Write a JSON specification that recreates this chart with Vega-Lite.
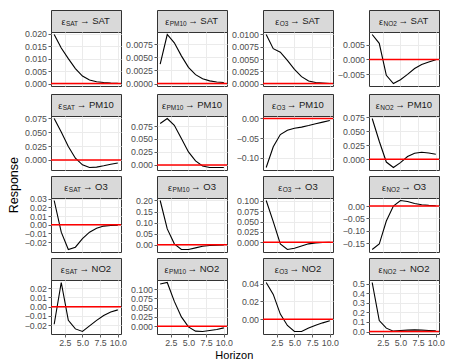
{
"$schema": "https://vega.github.io/schema/vega-lite/v6.json",
"background": "white",
"padding": {"left": 8, "top": 9, "right": 5, "bottom": 0},
"title": {"text": "Response", "orient": "left", "anchor": "middle", "fontSize": 12.5, "fontWeight": "normal", "font": "Liberation Sans", "color": "#000000", "offset": 3},
"datasets": {
"irf": [
{"p":"SAT_SAT","h":1,"v":0.0197},{"p":"SAT_SAT","h":2,"v":0.0143},{"p":"SAT_SAT","h":3,"v":0.0100},{"p":"SAT_SAT","h":4,"v":0.0060},{"p":"SAT_SAT","h":5,"v":0.0030},{"p":"SAT_SAT","h":6,"v":0.0014},{"p":"SAT_SAT","h":7,"v":0.0007},{"p":"SAT_SAT","h":8,"v":0.0004},{"p":"SAT_SAT","h":9,"v":0.0002},{"p":"SAT_SAT","h":10,"v":0.0001},
{"p":"PM10_SAT","h":1,"v":0.0037},{"p":"PM10_SAT","h":2,"v":0.0094},{"p":"PM10_SAT","h":3,"v":0.0078},{"p":"PM10_SAT","h":4,"v":0.0053},{"p":"PM10_SAT","h":5,"v":0.0031},{"p":"PM10_SAT","h":6,"v":0.0017},{"p":"PM10_SAT","h":7,"v":0.0009},{"p":"PM10_SAT","h":8,"v":0.0005},{"p":"PM10_SAT","h":9,"v":0.0003},{"p":"PM10_SAT","h":10,"v":0.0002},
{"p":"O3_SAT","h":1,"v":0.0100},{"p":"O3_SAT","h":2,"v":0.0071},{"p":"O3_SAT","h":3,"v":0.0064},{"p":"O3_SAT","h":4,"v":0.0047},{"p":"O3_SAT","h":5,"v":0.0029},{"p":"O3_SAT","h":6,"v":0.0014},{"p":"O3_SAT","h":7,"v":0.0005},{"p":"O3_SAT","h":8,"v":0.0002},{"p":"O3_SAT","h":9,"v":0.0001},{"p":"O3_SAT","h":10,"v":0.0000},
{"p":"NO2_SAT","h":1,"v":0.0085},{"p":"NO2_SAT","h":2,"v":0.0055},{"p":"NO2_SAT","h":3,"v":-0.0054},{"p":"NO2_SAT","h":4,"v":-0.0082},{"p":"NO2_SAT","h":5,"v":-0.0069},{"p":"NO2_SAT","h":6,"v":-0.0051},{"p":"NO2_SAT","h":7,"v":-0.0031},{"p":"NO2_SAT","h":8,"v":-0.0017},{"p":"NO2_SAT","h":9,"v":-0.0009},{"p":"NO2_SAT","h":10,"v":-0.0001},
{"p":"SAT_PM10","h":1,"v":0.0745},{"p":"SAT_PM10","h":2,"v":0.050},{"p":"SAT_PM10","h":3,"v":0.024},{"p":"SAT_PM10","h":4,"v":0.003},{"p":"SAT_PM10","h":5,"v":-0.009},{"p":"SAT_PM10","h":6,"v":-0.0137},{"p":"SAT_PM10","h":7,"v":-0.013},{"p":"SAT_PM10","h":8,"v":-0.0107},{"p":"SAT_PM10","h":9,"v":-0.008},{"p":"SAT_PM10","h":10,"v":-0.0055},
{"p":"PM10_PM10","h":1,"v":0.080},{"p":"PM10_PM10","h":2,"v":0.0895},{"p":"PM10_PM10","h":3,"v":0.0765},{"p":"PM10_PM10","h":4,"v":0.051},{"p":"PM10_PM10","h":5,"v":0.025},{"p":"PM10_PM10","h":6,"v":0.0077},{"p":"PM10_PM10","h":7,"v":-0.002},{"p":"PM10_PM10","h":8,"v":-0.005},{"p":"PM10_PM10","h":9,"v":-0.005},{"p":"PM10_PM10","h":10,"v":-0.005},
{"p":"O3_PM10","h":1,"v":-0.125},{"p":"O3_PM10","h":2,"v":-0.072},{"p":"O3_PM10","h":3,"v":-0.041},{"p":"O3_PM10","h":4,"v":-0.030},{"p":"O3_PM10","h":5,"v":-0.025},{"p":"O3_PM10","h":6,"v":-0.022},{"p":"O3_PM10","h":7,"v":-0.018},{"p":"O3_PM10","h":8,"v":-0.0135},{"p":"O3_PM10","h":9,"v":-0.0093},{"p":"O3_PM10","h":10,"v":-0.005},
{"p":"NO2_PM10","h":1,"v":0.0724},{"p":"NO2_PM10","h":2,"v":0.032},{"p":"NO2_PM10","h":3,"v":-0.005},{"p":"NO2_PM10","h":4,"v":-0.0147},{"p":"NO2_PM10","h":5,"v":-0.006},{"p":"NO2_PM10","h":6,"v":0.0047},{"p":"NO2_PM10","h":7,"v":0.0106},{"p":"NO2_PM10","h":8,"v":0.0124},{"p":"NO2_PM10","h":9,"v":0.011},{"p":"NO2_PM10","h":10,"v":0.0088},
{"p":"SAT_O3","h":1,"v":0.028},{"p":"SAT_O3","h":2,"v":-0.0085},{"p":"SAT_O3","h":3,"v":-0.0285},{"p":"SAT_O3","h":4,"v":-0.0258},{"p":"SAT_O3","h":5,"v":-0.016},{"p":"SAT_O3","h":6,"v":-0.0085},{"p":"SAT_O3","h":7,"v":-0.004},{"p":"SAT_O3","h":8,"v":-0.0015},{"p":"SAT_O3","h":9,"v":-0.0008},{"p":"SAT_O3","h":10,"v":-0.0004},
{"p":"PM10_O3","h":1,"v":0.20},{"p":"PM10_O3","h":2,"v":0.072},{"p":"PM10_O3","h":3,"v":0.0045},{"p":"PM10_O3","h":4,"v":-0.021},{"p":"PM10_O3","h":5,"v":-0.021},{"p":"PM10_O3","h":6,"v":-0.0136},{"p":"PM10_O3","h":7,"v":-0.006},{"p":"PM10_O3","h":8,"v":-0.003},{"p":"PM10_O3","h":9,"v":-0.0015},{"p":"PM10_O3","h":10,"v":-0.0005},
{"p":"O3_O3","h":1,"v":0.101},{"p":"O3_O3","h":2,"v":0.050},{"p":"O3_O3","h":3,"v":-0.004},{"p":"O3_O3","h":4,"v":-0.0177},{"p":"O3_O3","h":5,"v":-0.0145},{"p":"O3_O3","h":6,"v":-0.009},{"p":"O3_O3","h":7,"v":-0.004},{"p":"O3_O3","h":8,"v":-0.0016},{"p":"O3_O3","h":9,"v":-0.0008},{"p":"O3_O3","h":10,"v":0.0},
{"p":"NO2_O3","h":1,"v":-0.175},{"p":"NO2_O3","h":2,"v":-0.153},{"p":"NO2_O3","h":3,"v":-0.060},{"p":"NO2_O3","h":4,"v":0.000},{"p":"NO2_O3","h":5,"v":0.0225},{"p":"NO2_O3","h":6,"v":0.0186},{"p":"NO2_O3","h":7,"v":0.0106},{"p":"NO2_O3","h":8,"v":0.0053},{"p":"NO2_O3","h":9,"v":0.0027},{"p":"NO2_O3","h":10,"v":0.0013},
{"p":"SAT_NO2","h":1,"v":-0.019},{"p":"SAT_NO2","h":2,"v":0.026},{"p":"SAT_NO2","h":3,"v":-0.0148},{"p":"SAT_NO2","h":4,"v":-0.024},{"p":"SAT_NO2","h":5,"v":-0.0268},{"p":"SAT_NO2","h":6,"v":-0.0208},{"p":"SAT_NO2","h":7,"v":-0.0148},{"p":"SAT_NO2","h":8,"v":-0.0095},{"p":"SAT_NO2","h":9,"v":-0.0057},{"p":"SAT_NO2","h":10,"v":-0.0035},
{"p":"PM10_NO2","h":1,"v":0.114},{"p":"PM10_NO2","h":2,"v":0.118},{"p":"PM10_NO2","h":3,"v":0.067},{"p":"PM10_NO2","h":4,"v":0.025},{"p":"PM10_NO2","h":5,"v":-0.0018},{"p":"PM10_NO2","h":6,"v":-0.0134},{"p":"PM10_NO2","h":7,"v":-0.0143},{"p":"PM10_NO2","h":8,"v":-0.0116},{"p":"PM10_NO2","h":9,"v":-0.009},{"p":"PM10_NO2","h":10,"v":-0.0045},
{"p":"O3_NO2","h":1,"v":0.0415},{"p":"O3_NO2","h":2,"v":0.028},{"p":"O3_NO2","h":3,"v":0.0057},{"p":"O3_NO2","h":4,"v":-0.0072},{"p":"O3_NO2","h":5,"v":-0.014},{"p":"O3_NO2","h":6,"v":-0.014},{"p":"O3_NO2","h":7,"v":-0.010},{"p":"O3_NO2","h":8,"v":-0.0068},{"p":"O3_NO2","h":9,"v":-0.0042},{"p":"O3_NO2","h":10,"v":-0.0019},
{"p":"NO2_NO2","h":1,"v":0.514},{"p":"NO2_NO2","h":2,"v":0.115},{"p":"NO2_NO2","h":3,"v":0.035},{"p":"NO2_NO2","h":4,"v":0.0035},{"p":"NO2_NO2","h":5,"v":0.01},{"p":"NO2_NO2","h":6,"v":0.014},{"p":"NO2_NO2","h":7,"v":0.017},{"p":"NO2_NO2","h":8,"v":0.014},{"p":"NO2_NO2","h":9,"v":0.01},{"p":"NO2_NO2","h":10,"v":0.007}
]
},
"config": {
"font": "Liberation Sans",
"view": {"stroke": "#333333", "strokeWidth": 1},
"axis": {"domain": false, "grid": true, "gridColor": "#ebebeb", "gridWidth": 1, "labelFont": "Liberation Sans", "labelFontSize": 8.8, "labelColor": "#4d4d4d", "tickColor": "#333333", "tickSize": 3, "tickWidth": 0.8, "labelPadding": 1.5, "labelOverlap": false, "labelFlush": false, "labelBound": false},
"text": {"font": "Liberation Sans", "color": "#1a1a1a", "baseline": "middle"}
},
"vconcat": [{
"title": {"text": "Horizon", "orient": "bottom", "anchor": "middle", "fontSize": 11, "fontWeight": "normal", "font": "Liberation Sans", "color": "#000000", "offset": 2},
"spacing": 4,
"vconcat": [
{"columns": 4, "spacing": {"row": 0, "column": 36}, "bounds": "flush", "align": "each", "concat": [
{"width":70,"height":22,"view":{"fill":"#d9d9d9","stroke":"#333333"},"data":{"values":[{"shock":"SAT","resp":"→ SAT"}]},"layer":[
{"mark":{"type":"text","text":"ε","align":"left","dx":-24.6,"dy":1,"fontSize":9},"encoding":{}},
{"mark":{"type":"text","align":"left","dx":-20.1,"dy":2.5,"fontSize":6.5},"encoding":{"text":{"field":"shock"}}},
{"mark":{"type":"text","align":"left","dx":-6.0,"fontSize":9.5},"encoding":{"text":{"field":"resp"}}}]},
{"width":70,"height":22,"view":{"fill":"#d9d9d9","stroke":"#333333"},"data":{"values":[{"shock":"PM10","resp":"→ SAT"}]},"layer":[
{"mark":{"type":"text","text":"ε","align":"left","dx":-26.8,"dy":1,"fontSize":9},"encoding":{}},
{"mark":{"type":"text","align":"left","dx":-22.3,"dy":2.5,"fontSize":6.5},"encoding":{"text":{"field":"shock"}}},
{"mark":{"type":"text","align":"left","dx":-3.8,"fontSize":9.5},"encoding":{"text":{"field":"resp"}}}]},
{"width":70,"height":22,"view":{"fill":"#d9d9d9","stroke":"#333333"},"data":{"values":[{"shock":"O3","resp":"→ SAT"}]},"layer":[
{"mark":{"type":"text","text":"ε","align":"left","dx":-22.7,"dy":1,"fontSize":9},"encoding":{}},
{"mark":{"type":"text","align":"left","dx":-18.2,"dy":2.5,"fontSize":6.5},"encoding":{"text":{"field":"shock"}}},
{"mark":{"type":"text","align":"left","dx":-8.0,"fontSize":9.5},"encoding":{"text":{"field":"resp"}}}]},
{"width":70,"height":22,"view":{"fill":"#d9d9d9","stroke":"#333333"},"data":{"values":[{"shock":"NO2","resp":"→ SAT"}]},"layer":[
{"mark":{"type":"text","text":"ε","align":"left","dx":-25,"dy":1,"fontSize":9},"encoding":{}},
{"mark":{"type":"text","align":"left","dx":-20.5,"dy":2.5,"fontSize":6.5},"encoding":{"text":{"field":"shock"}}},
{"mark":{"type":"text","align":"left","dx":-5.6,"fontSize":9.5},"encoding":{"text":{"field":"resp"}}}]},
{"width":70,"height":54,"data":{"name":"irf"},"transform":[{"filter":"datum.p==='SAT_SAT'"}],"layer":[
{"mark":{"type":"line","color":"#000000","strokeWidth":1.1},"encoding":{
"x":{"field":"h","type":"quantitative","scale":{"domain":[0.55,10.45],"nice":false},"axis":{"title":null,"values":[2.5,5,7.5,10],"labels":false,"ticks":false}},
"y":{"field":"v","type":"quantitative","scale":{"zero":true,"nice":false,"padding":2.5},"axis":{"title":null,"values":[0,0.005,0.01,0.015,0.02],"format":".3f"}}}},
{"transform":[{"aggregate":[{"op":"count","as":"n"}]}],"mark":{"type":"rule","color":"#ff0000","strokeWidth":1.5,"zindex":5},"encoding":{"y":{"datum":0,"type":"quantitative","axis":{"title":null,"values":[0,0.005,0.01,0.015,0.02],"format":".3f"}}}}]},
{"width":70,"height":54,"data":{"name":"irf"},"transform":[{"filter":"datum.p==='PM10_SAT'"}],"layer":[
{"mark":{"type":"line","color":"#000000","strokeWidth":1.1},"encoding":{
"x":{"field":"h","type":"quantitative","scale":{"domain":[0.55,10.45],"nice":false},"axis":{"title":null,"values":[2.5,5,7.5,10],"labels":false,"ticks":false}},
"y":{"field":"v","type":"quantitative","scale":{"zero":true,"nice":false,"padding":2.5},"axis":{"title":null,"values":[0,0.0025,0.005,0.0075],"format":".4f"}}}},
{"transform":[{"aggregate":[{"op":"count","as":"n"}]}],"mark":{"type":"rule","color":"#ff0000","strokeWidth":1.5,"zindex":5},"encoding":{"y":{"datum":0,"type":"quantitative","axis":{"title":null,"values":[0,0.0025,0.005,0.0075],"format":".4f"}}}}]},
{"width":70,"height":54,"data":{"name":"irf"},"transform":[{"filter":"datum.p==='O3_SAT'"}],"layer":[
{"mark":{"type":"line","color":"#000000","strokeWidth":1.1},"encoding":{
"x":{"field":"h","type":"quantitative","scale":{"domain":[0.55,10.45],"nice":false},"axis":{"title":null,"values":[2.5,5,7.5,10],"labels":false,"ticks":false}},
"y":{"field":"v","type":"quantitative","scale":{"zero":true,"nice":false,"padding":2.5},"axis":{"title":null,"values":[0,0.0025,0.005,0.0075,0.01],"format":".4f"}}}},
{"transform":[{"aggregate":[{"op":"count","as":"n"}]}],"mark":{"type":"rule","color":"#ff0000","strokeWidth":1.5,"zindex":5},"encoding":{"y":{"datum":0,"type":"quantitative","axis":{"title":null,"values":[0,0.0025,0.005,0.0075,0.01],"format":".4f"}}}}]},
{"width":70,"height":54,"data":{"name":"irf"},"transform":[{"filter":"datum.p==='NO2_SAT'"}],"layer":[
{"mark":{"type":"line","color":"#000000","strokeWidth":1.1},"encoding":{
"x":{"field":"h","type":"quantitative","scale":{"domain":[0.55,10.45],"nice":false},"axis":{"title":null,"values":[2.5,5,7.5,10],"labels":false,"ticks":false}},
"y":{"field":"v","type":"quantitative","scale":{"zero":true,"nice":false,"padding":2.5},"axis":{"title":null,"values":[-0.005,0,0.005],"format":".3f"}}}},
{"transform":[{"aggregate":[{"op":"count","as":"n"}]}],"mark":{"type":"rule","color":"#ff0000","strokeWidth":1.5,"zindex":5},"encoding":{"y":{"datum":0,"type":"quantitative","axis":{"title":null,"values":[-0.005,0,0.005],"format":".3f"}}}}]}
]},
{"columns": 4, "spacing": {"row": 0, "column": 36}, "bounds": "flush", "align": "each", "concat": [
{"width":70,"height":22,"view":{"fill":"#d9d9d9","stroke":"#333333"},"data":{"values":[{"shock":"SAT","resp":"→ PM10"}]},"layer":[
{"mark":{"type":"text","text":"ε","align":"left","dx":-27.8,"dy":1,"fontSize":9},"encoding":{}},
{"mark":{"type":"text","align":"left","dx":-23.3,"dy":2.5,"fontSize":6.5},"encoding":{"text":{"field":"shock"}}},
{"mark":{"type":"text","align":"left","dx":-9.2,"fontSize":9.5},"encoding":{"text":{"field":"resp"}}}]},
{"width":70,"height":22,"view":{"fill":"#d9d9d9","stroke":"#333333"},"data":{"values":[{"shock":"PM10","resp":"→ PM10"}]},"layer":[
{"mark":{"type":"text","text":"ε","align":"left","dx":-30,"dy":1,"fontSize":9},"encoding":{}},
{"mark":{"type":"text","align":"left","dx":-25.5,"dy":2.5,"fontSize":6.5},"encoding":{"text":{"field":"shock"}}},
{"mark":{"type":"text","align":"left","dx":-7,"fontSize":9.5},"encoding":{"text":{"field":"resp"}}}]},
{"width":70,"height":22,"view":{"fill":"#d9d9d9","stroke":"#333333"},"data":{"values":[{"shock":"O3","resp":"→ PM10"}]},"layer":[
{"mark":{"type":"text","text":"ε","align":"left","dx":-25.9,"dy":1,"fontSize":9},"encoding":{}},
{"mark":{"type":"text","align":"left","dx":-21.4,"dy":2.5,"fontSize":6.5},"encoding":{"text":{"field":"shock"}}},
{"mark":{"type":"text","align":"left","dx":-11.2,"fontSize":9.5},"encoding":{"text":{"field":"resp"}}}]},
{"width":70,"height":22,"view":{"fill":"#d9d9d9","stroke":"#333333"},"data":{"values":[{"shock":"NO2","resp":"→ PM10"}]},"layer":[
{"mark":{"type":"text","text":"ε","align":"left","dx":-28.2,"dy":1,"fontSize":9},"encoding":{}},
{"mark":{"type":"text","align":"left","dx":-23.7,"dy":2.5,"fontSize":6.5},"encoding":{"text":{"field":"shock"}}},
{"mark":{"type":"text","align":"left","dx":-8.8,"fontSize":9.5},"encoding":{"text":{"field":"resp"}}}]},
{"width":70,"height":54,"data":{"name":"irf"},"transform":[{"filter":"datum.p==='SAT_PM10'"}],"layer":[
{"mark":{"type":"line","color":"#000000","strokeWidth":1.1},"encoding":{
"x":{"field":"h","type":"quantitative","scale":{"domain":[0.55,10.45],"nice":false},"axis":{"title":null,"values":[2.5,5,7.5,10],"labels":false,"ticks":false}},
"y":{"field":"v","type":"quantitative","scale":{"zero":true,"nice":false,"padding":2.5},"axis":{"title":null,"values":[0,0.025,0.05,0.075],"format":".3f"}}}},
{"transform":[{"aggregate":[{"op":"count","as":"n"}]}],"mark":{"type":"rule","color":"#ff0000","strokeWidth":1.5,"zindex":5},"encoding":{"y":{"datum":0,"type":"quantitative","axis":{"title":null,"values":[0,0.025,0.05,0.075],"format":".3f"}}}}]},
{"width":70,"height":54,"data":{"name":"irf"},"transform":[{"filter":"datum.p==='PM10_PM10'"}],"layer":[
{"mark":{"type":"line","color":"#000000","strokeWidth":1.1},"encoding":{
"x":{"field":"h","type":"quantitative","scale":{"domain":[0.55,10.45],"nice":false},"axis":{"title":null,"values":[2.5,5,7.5,10],"labels":false,"ticks":false}},
"y":{"field":"v","type":"quantitative","scale":{"zero":true,"nice":false,"padding":2.5},"axis":{"title":null,"values":[0,0.025,0.05,0.075],"format":".3f"}}}},
{"transform":[{"aggregate":[{"op":"count","as":"n"}]}],"mark":{"type":"rule","color":"#ff0000","strokeWidth":1.5,"zindex":5},"encoding":{"y":{"datum":0,"type":"quantitative","axis":{"title":null,"values":[0,0.025,0.05,0.075],"format":".3f"}}}}]},
{"width":70,"height":54,"data":{"name":"irf"},"transform":[{"filter":"datum.p==='O3_PM10'"}],"layer":[
{"mark":{"type":"line","color":"#000000","strokeWidth":1.1},"encoding":{
"x":{"field":"h","type":"quantitative","scale":{"domain":[0.55,10.45],"nice":false},"axis":{"title":null,"values":[2.5,5,7.5,10],"labels":false,"ticks":false}},
"y":{"field":"v","type":"quantitative","scale":{"zero":true,"nice":false,"padding":2.5},"axis":{"title":null,"values":[-0.1,-0.05,0],"format":".2f"}}}},
{"transform":[{"aggregate":[{"op":"count","as":"n"}]}],"mark":{"type":"rule","color":"#ff0000","strokeWidth":1.5,"zindex":5},"encoding":{"y":{"datum":0,"type":"quantitative","axis":{"title":null,"values":[-0.1,-0.05,0],"format":".2f"}}}}]},
{"width":70,"height":54,"data":{"name":"irf"},"transform":[{"filter":"datum.p==='NO2_PM10'"}],"layer":[
{"mark":{"type":"line","color":"#000000","strokeWidth":1.1},"encoding":{
"x":{"field":"h","type":"quantitative","scale":{"domain":[0.55,10.45],"nice":false},"axis":{"title":null,"values":[2.5,5,7.5,10],"labels":false,"ticks":false}},
"y":{"field":"v","type":"quantitative","scale":{"zero":true,"nice":false,"padding":2.5},"axis":{"title":null,"values":[0,0.025,0.05,0.075],"format":".3f"}}}},
{"transform":[{"aggregate":[{"op":"count","as":"n"}]}],"mark":{"type":"rule","color":"#ff0000","strokeWidth":1.5,"zindex":5},"encoding":{"y":{"datum":0,"type":"quantitative","axis":{"title":null,"values":[0,0.025,0.05,0.075],"format":".3f"}}}}]}
]},
{"columns": 4, "spacing": {"row": 0, "column": 36}, "bounds": "flush", "align": "each", "concat": [
{"width":70,"height":22,"view":{"fill":"#d9d9d9","stroke":"#333333"},"data":{"values":[{"shock":"SAT","resp":"→ O3"}]},"layer":[
{"mark":{"type":"text","text":"ε","align":"left","dx":-21.7,"dy":1,"fontSize":9},"encoding":{}},
{"mark":{"type":"text","align":"left","dx":-17.2,"dy":2.5,"fontSize":6.5},"encoding":{"text":{"field":"shock"}}},
{"mark":{"type":"text","align":"left","dx":-3.1,"fontSize":9.5},"encoding":{"text":{"field":"resp"}}}]},
{"width":70,"height":22,"view":{"fill":"#d9d9d9","stroke":"#333333"},"data":{"values":[{"shock":"PM10","resp":"→ O3"}]},"layer":[
{"mark":{"type":"text","text":"ε","align":"left","dx":-23.9,"dy":1,"fontSize":9},"encoding":{}},
{"mark":{"type":"text","align":"left","dx":-19.4,"dy":2.5,"fontSize":6.5},"encoding":{"text":{"field":"shock"}}},
{"mark":{"type":"text","align":"left","dx":-0.9,"fontSize":9.5},"encoding":{"text":{"field":"resp"}}}]},
{"width":70,"height":22,"view":{"fill":"#d9d9d9","stroke":"#333333"},"data":{"values":[{"shock":"O3","resp":"→ O3"}]},"layer":[
{"mark":{"type":"text","text":"ε","align":"left","dx":-19.8,"dy":1,"fontSize":9},"encoding":{}},
{"mark":{"type":"text","align":"left","dx":-15.3,"dy":2.5,"fontSize":6.5},"encoding":{"text":{"field":"shock"}}},
{"mark":{"type":"text","align":"left","dx":-5.1,"fontSize":9.5},"encoding":{"text":{"field":"resp"}}}]},
{"width":70,"height":22,"view":{"fill":"#d9d9d9","stroke":"#333333"},"data":{"values":[{"shock":"NO2","resp":"→ O3"}]},"layer":[
{"mark":{"type":"text","text":"ε","align":"left","dx":-22.1,"dy":1,"fontSize":9},"encoding":{}},
{"mark":{"type":"text","align":"left","dx":-17.6,"dy":2.5,"fontSize":6.5},"encoding":{"text":{"field":"shock"}}},
{"mark":{"type":"text","align":"left","dx":-2.7,"fontSize":9.5},"encoding":{"text":{"field":"resp"}}}]},
{"width":70,"height":54,"data":{"name":"irf"},"transform":[{"filter":"datum.p==='SAT_O3'"}],"layer":[
{"mark":{"type":"line","color":"#000000","strokeWidth":1.1},"encoding":{
"x":{"field":"h","type":"quantitative","scale":{"domain":[0.55,10.45],"nice":false},"axis":{"title":null,"values":[2.5,5,7.5,10],"labels":false,"ticks":false}},
"y":{"field":"v","type":"quantitative","scale":{"zero":true,"nice":false,"padding":2.5},"axis":{"title":null,"values":[-0.02,-0.01,0,0.01,0.02,0.03],"format":".2f"}}}},
{"transform":[{"aggregate":[{"op":"count","as":"n"}]}],"mark":{"type":"rule","color":"#ff0000","strokeWidth":1.5,"zindex":5},"encoding":{"y":{"datum":0,"type":"quantitative","axis":{"title":null,"values":[-0.02,-0.01,0,0.01,0.02,0.03],"format":".2f"}}}}]},
{"width":70,"height":54,"data":{"name":"irf"},"transform":[{"filter":"datum.p==='PM10_O3'"}],"layer":[
{"mark":{"type":"line","color":"#000000","strokeWidth":1.1},"encoding":{
"x":{"field":"h","type":"quantitative","scale":{"domain":[0.55,10.45],"nice":false},"axis":{"title":null,"values":[2.5,5,7.5,10],"labels":false,"ticks":false}},
"y":{"field":"v","type":"quantitative","scale":{"zero":true,"nice":false,"padding":2.5},"axis":{"title":null,"values":[0,0.05,0.1,0.15,0.2],"format":".2f"}}}},
{"transform":[{"aggregate":[{"op":"count","as":"n"}]}],"mark":{"type":"rule","color":"#ff0000","strokeWidth":1.5,"zindex":5},"encoding":{"y":{"datum":0,"type":"quantitative","axis":{"title":null,"values":[0,0.05,0.1,0.15,0.2],"format":".2f"}}}}]},
{"width":70,"height":54,"data":{"name":"irf"},"transform":[{"filter":"datum.p==='O3_O3'"}],"layer":[
{"mark":{"type":"line","color":"#000000","strokeWidth":1.1},"encoding":{
"x":{"field":"h","type":"quantitative","scale":{"domain":[0.55,10.45],"nice":false},"axis":{"title":null,"values":[2.5,5,7.5,10],"labels":false,"ticks":false}},
"y":{"field":"v","type":"quantitative","scale":{"zero":true,"nice":false,"padding":2.5},"axis":{"title":null,"values":[0,0.025,0.05,0.075,0.1],"format":".3f"}}}},
{"transform":[{"aggregate":[{"op":"count","as":"n"}]}],"mark":{"type":"rule","color":"#ff0000","strokeWidth":1.5,"zindex":5},"encoding":{"y":{"datum":0,"type":"quantitative","axis":{"title":null,"values":[0,0.025,0.05,0.075,0.1],"format":".3f"}}}}]},
{"width":70,"height":54,"data":{"name":"irf"},"transform":[{"filter":"datum.p==='NO2_O3'"}],"layer":[
{"mark":{"type":"line","color":"#000000","strokeWidth":1.1},"encoding":{
"x":{"field":"h","type":"quantitative","scale":{"domain":[0.55,10.45],"nice":false},"axis":{"title":null,"values":[2.5,5,7.5,10],"labels":false,"ticks":false}},
"y":{"field":"v","type":"quantitative","scale":{"zero":true,"nice":false,"padding":2.5},"axis":{"title":null,"values":[-0.15,-0.1,-0.05,0],"format":".2f"}}}},
{"transform":[{"aggregate":[{"op":"count","as":"n"}]}],"mark":{"type":"rule","color":"#ff0000","strokeWidth":1.5,"zindex":5},"encoding":{"y":{"datum":0,"type":"quantitative","axis":{"title":null,"values":[-0.15,-0.1,-0.05,0],"format":".2f"}}}}]}
]},
{"columns": 4, "spacing": {"row": 0, "column": 36}, "bounds": "flush", "align": "each", "concat": [
{"width":70,"height":22,"view":{"fill":"#d9d9d9","stroke":"#333333"},"data":{"values":[{"shock":"SAT","resp":"→ NO2"}]},"layer":[
{"mark":{"type":"text","text":"ε","align":"left","dx":-25.2,"dy":1,"fontSize":9},"encoding":{}},
{"mark":{"type":"text","align":"left","dx":-20.7,"dy":2.5,"fontSize":6.5},"encoding":{"text":{"field":"shock"}}},
{"mark":{"type":"text","align":"left","dx":-6.6,"fontSize":9.5},"encoding":{"text":{"field":"resp"}}}]},
{"width":70,"height":22,"view":{"fill":"#d9d9d9","stroke":"#333333"},"data":{"values":[{"shock":"PM10","resp":"→ NO2"}]},"layer":[
{"mark":{"type":"text","text":"ε","align":"left","dx":-27.4,"dy":1,"fontSize":9},"encoding":{}},
{"mark":{"type":"text","align":"left","dx":-22.9,"dy":2.5,"fontSize":6.5},"encoding":{"text":{"field":"shock"}}},
{"mark":{"type":"text","align":"left","dx":-4.4,"fontSize":9.5},"encoding":{"text":{"field":"resp"}}}]},
{"width":70,"height":22,"view":{"fill":"#d9d9d9","stroke":"#333333"},"data":{"values":[{"shock":"O3","resp":"→ NO2"}]},"layer":[
{"mark":{"type":"text","text":"ε","align":"left","dx":-23.2,"dy":1,"fontSize":9},"encoding":{}},
{"mark":{"type":"text","align":"left","dx":-18.7,"dy":2.5,"fontSize":6.5},"encoding":{"text":{"field":"shock"}}},
{"mark":{"type":"text","align":"left","dx":-8.5,"fontSize":9.5},"encoding":{"text":{"field":"resp"}}}]},
{"width":70,"height":22,"view":{"fill":"#d9d9d9","stroke":"#333333"},"data":{"values":[{"shock":"NO2","resp":"→ NO2"}]},"layer":[
{"mark":{"type":"text","text":"ε","align":"left","dx":-25.6,"dy":1,"fontSize":9},"encoding":{}},
{"mark":{"type":"text","align":"left","dx":-21.1,"dy":2.5,"fontSize":6.5},"encoding":{"text":{"field":"shock"}}},
{"mark":{"type":"text","align":"left","dx":-6.2,"fontSize":9.5},"encoding":{"text":{"field":"resp"}}}]},
{"width":70,"height":54,"data":{"name":"irf"},"transform":[{"filter":"datum.p==='SAT_NO2'"}],"layer":[
{"mark":{"type":"line","color":"#000000","strokeWidth":1.1},"encoding":{
"x":{"field":"h","type":"quantitative","scale":{"domain":[0.55,10.45],"nice":false},"axis":{"title":null,"values":[2.5,5,7.5,10],"format":".1f"}},
"y":{"field":"v","type":"quantitative","scale":{"zero":true,"nice":false,"padding":2.5},"axis":{"title":null,"values":[-0.02,-0.01,0,0.01,0.02],"format":".2f"}}}},
{"transform":[{"aggregate":[{"op":"count","as":"n"}]}],"mark":{"type":"rule","color":"#ff0000","strokeWidth":1.5,"zindex":5},"encoding":{"y":{"datum":0,"type":"quantitative","axis":{"title":null,"values":[-0.02,-0.01,0,0.01,0.02],"format":".2f"}}}}]},
{"width":70,"height":54,"data":{"name":"irf"},"transform":[{"filter":"datum.p==='PM10_NO2'"}],"layer":[
{"mark":{"type":"line","color":"#000000","strokeWidth":1.1},"encoding":{
"x":{"field":"h","type":"quantitative","scale":{"domain":[0.55,10.45],"nice":false},"axis":{"title":null,"values":[2.5,5,7.5,10],"format":".1f"}},
"y":{"field":"v","type":"quantitative","scale":{"zero":true,"nice":false,"padding":2.5},"axis":{"title":null,"values":[0,0.025,0.05,0.075,0.1,0.125],"format":".3f"}}}},
{"transform":[{"aggregate":[{"op":"count","as":"n"}]}],"mark":{"type":"rule","color":"#ff0000","strokeWidth":1.5,"zindex":5},"encoding":{"y":{"datum":0,"type":"quantitative","axis":{"title":null,"values":[0,0.025,0.05,0.075,0.1,0.125],"format":".3f"}}}}]},
{"width":70,"height":54,"data":{"name":"irf"},"transform":[{"filter":"datum.p==='O3_NO2'"}],"layer":[
{"mark":{"type":"line","color":"#000000","strokeWidth":1.1},"encoding":{
"x":{"field":"h","type":"quantitative","scale":{"domain":[0.55,10.45],"nice":false},"axis":{"title":null,"values":[2.5,5,7.5,10],"format":".1f"}},
"y":{"field":"v","type":"quantitative","scale":{"zero":true,"nice":false,"padding":2.5},"axis":{"title":null,"values":[0,0.02,0.04],"format":".2f"}}}},
{"transform":[{"aggregate":[{"op":"count","as":"n"}]}],"mark":{"type":"rule","color":"#ff0000","strokeWidth":1.5,"zindex":5},"encoding":{"y":{"datum":0,"type":"quantitative","axis":{"title":null,"values":[0,0.02,0.04],"format":".2f"}}}}]},
{"width":70,"height":54,"data":{"name":"irf"},"transform":[{"filter":"datum.p==='NO2_NO2'"}],"layer":[
{"mark":{"type":"line","color":"#000000","strokeWidth":1.1},"encoding":{
"x":{"field":"h","type":"quantitative","scale":{"domain":[0.55,10.45],"nice":false},"axis":{"title":null,"values":[2.5,5,7.5,10],"format":".1f"}},
"y":{"field":"v","type":"quantitative","scale":{"zero":true,"nice":false,"padding":2.5},"axis":{"title":null,"values":[0,0.1,0.2,0.3,0.4,0.5],"format":".1f"}}}},
{"transform":[{"aggregate":[{"op":"count","as":"n"}]}],"mark":{"type":"rule","color":"#ff0000","strokeWidth":1.5,"zindex":5},"encoding":{"y":{"datum":0,"type":"quantitative","axis":{"title":null,"values":[0,0.1,0.2,0.3,0.4,0.5],"format":".1f"}}}}]}
]}
]
}]
}
